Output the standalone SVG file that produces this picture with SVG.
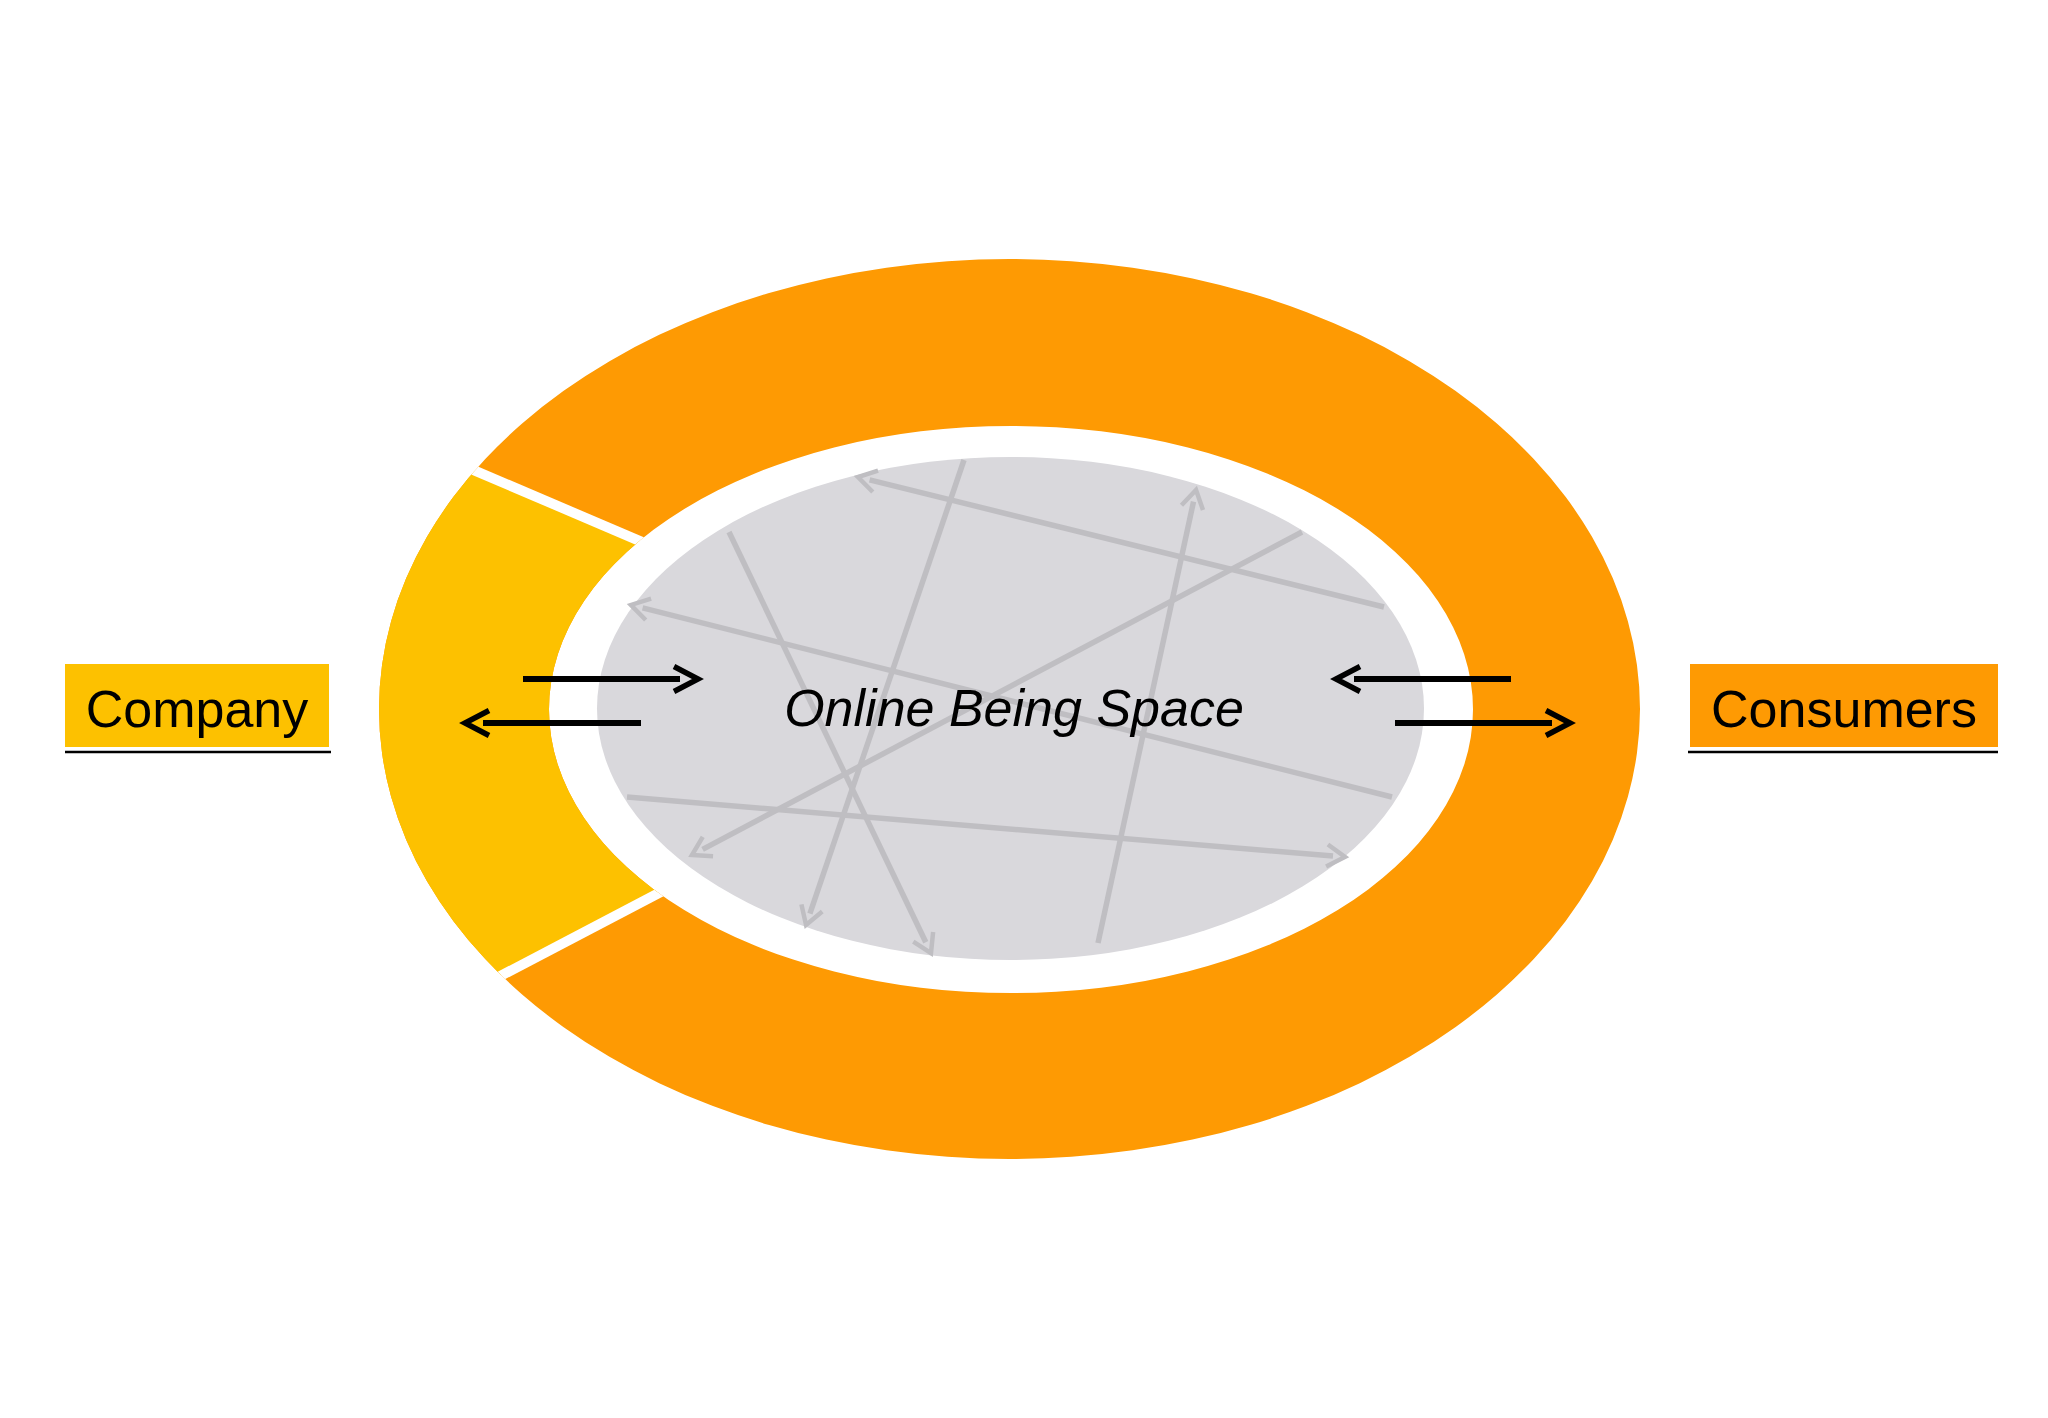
<svg xmlns="http://www.w3.org/2000/svg" width="2048" height="1418" viewBox="0 0 2048 1418">
<style>
.lbl{font-family:"Liberation Sans",Arial,sans-serif;font-size:52px;fill:#000}
.g{stroke:#BFBEC2;stroke-width:5.5;fill:none;marker-end:url(#ag)}
.k{stroke:#000;stroke-width:6;fill:none;marker-end:url(#ak)}
</style>
<defs>
<clipPath id="ringclip">
<path clip-rule="evenodd" d="M379,709 a630.5,450 0 1,0 1261,0 a630.5,450 0 1,0 -1261,0 Z M549,709.5 a462,283.5 0 1,0 924,0 a462,283.5 0 1,0 -924,0 Z"/>
</clipPath>
<marker id="ag" markerUnits="userSpaceOnUse" markerWidth="40" markerHeight="40" refX="6" refY="11" orient="auto" overflow="visible">
<path d="M0,0 L18,11 L0,22" fill="none" stroke="#BFBEC2" stroke-width="4.5"/>
</marker>
<marker id="ak" markerUnits="userSpaceOnUse" markerWidth="40" markerHeight="40" refX="6" refY="12.5" orient="auto" overflow="visible">
<path d="M0,0 L24,12.5 L0,25" fill="none" stroke="#000" stroke-width="5.5"/>
</marker>
</defs>
<rect width="2048" height="1418" fill="#fff"/>
<g id="ring">
<g clip-path="url(#ringclip)">
<rect x="300" y="200" width="1400" height="1000" fill="#FE9A03"/>
<polygon points="300,396 1019,703 300,1081" fill="#FDC100"/>
<line x1="300" y1="396" x2="750" y2="588" stroke="#fff" stroke-width="10"/>
<line x1="300" y1="1081" x2="760" y2="840" stroke="#fff" stroke-width="10"/>
</g>
</g>
<g id="online-being-space">
<ellipse cx="1010.5" cy="708.5" rx="413.5" ry="251.5" fill="#D9D8DC"/>
</g>
<g id="connectors">
<line class="g" x1="1384" y1="607" x2="869.6" y2="479.9"/>
<line class="g" x1="964" y1="460" x2="809.9" y2="913.6"/>
<line class="g" x1="729" y1="532" x2="925.8" y2="942.2"/>
<line class="g" x1="1098" y1="943" x2="1193.5" y2="501.7"/>
<line class="g" x1="1302" y1="532" x2="702.6" y2="849.4"/>
<line class="g" x1="1392" y1="797" x2="642.6" y2="607.9"/>
<line class="g" x1="627" y1="797" x2="1333" y2="856"/>
<line class="k" x1="523" y1="679" x2="680" y2="679"/>
<line class="k" x1="641" y1="723" x2="483" y2="723"/>
<line class="k" x1="1511" y1="679" x2="1354" y2="679"/>
<line class="k" x1="1395" y1="723" x2="1552" y2="723"/>
</g>
<text class="lbl" x="1014" y="726" text-anchor="middle" font-style="italic">Online Being Space</text>
<g id="company">
<rect x="65" y="664" width="264" height="83" fill="#FDC100"/>
<line x1="65" y1="752" x2="331" y2="752" stroke="#000" stroke-width="2.5"/>
<text class="lbl" x="197" y="727" text-anchor="middle" font-size="53">Company</text>
</g>
<g id="consumers">
<rect x="1690" y="664" width="308" height="83" fill="#FE9A03"/>
<line x1="1688" y1="752" x2="1998" y2="752" stroke="#000" stroke-width="2.5"/>
<text class="lbl" x="1844" y="727" text-anchor="middle" font-size="53">Consumers</text>
</g>
</svg>
